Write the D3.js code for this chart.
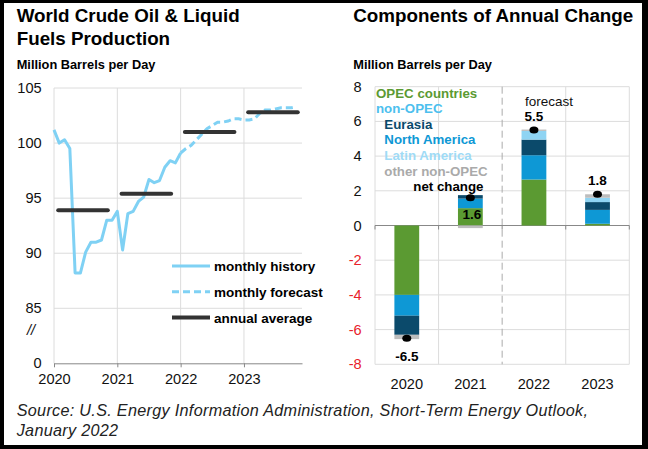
<!DOCTYPE html>
<html lang="en">
  <head>
    <title>world liquid fuels production</title>
    <meta charset="utf-8">
    <style>
      body { margin: 0; background: #000; }
      svg { display: block; font-family: "Liberation Sans", Arial, sans-serif; }
      .grid line { stroke: #dcdcdc; stroke-width: 1; }
      .tick-label { font-size: 14.6px; fill: #111; }
      .title { font-size: 18.8px; font-weight: bold; }
      .subtitle { font-size: 12.8px; font-weight: bold; }
      .legend { font-size: 13.5px; font-weight: bold; }
      .rlegend { font-size: 13.3px; font-weight: bold; }
      .value { font-size: 13.5px; font-weight: bold; }
      .source { font-size: 16.2px; font-style: italic; fill: #222; letter-spacing: 0.3px; }
    </style>
    <script src="https://d3js.org/d3.v7.min.js"></script>
  </head>
  <body>
    <script>

    // ---- left chart data (million barrels per day, monthly from Jan 2020) ----
    var monthlyHistory = [101.2, 100.0, 100.3, 99.5, 88.2, 88.2, 90.1, 91.0, 91.0, 91.2, 93.0, 93.0,
                          93.8, 90.3, 93.6, 93.8, 94.7, 95.1, 96.7, 96.4, 96.6, 97.8, 98.4, 98.2, 99.1];
    // forecast starts at month 24 (Jan 2022)
    var monthlyForecast = [99.1, 99.5, 99.8, 100.3, 100.8, 101.3, 101.6, 101.9, 101.9, 102.0, 102.2, 102.2,
                           102.1, 102.1, 102.2, 102.7, 103.0, 103.0, 103.1, 103.2, 103.2, 103.2, 103.3];
    var forecastStart = 24;
    var annualYears = [2020, 2021, 2022, 2023];
    var annualAverage = [93.9, 95.4, 101.0, 102.8];
    var leftTicks = [0, 85, 90, 95, 100, 105];

    // ---- right chart data (annual change) ----
    var years = ["2020", "2021", "2022", "2023"];
    var opec = [-4.0, 1.0, 2.65, 0.1];
    var northAmerica = [-1.2, 0.55, 1.4, 0.8];
    var eurasia = [-1.1, 0.2, 0.9, 0.45];
    var latinAmerica = [0, 0, 0.5, 0.25];
    var otherNonOpec = [-0.25, -0.15, 0.08, 0.2];
    var netChange = [-6.5, 1.6, 5.5, 1.8];
    var rightTicks = [-8, -6, -4, -2, 0, 2, 4, 6, 8];

    var W = 648, H = 449;

    var svg = d3.select("body").append("svg")
                .attr("width", W)
                .attr("height", H);

    // black frame round a white page
    svg.append("rect").attr("width", W).attr("height", H).attr("fill", "#000");
    svg.append("rect").attr("x", 4).attr("y", 3).attr("width", 638).attr("height", 442).attr("fill", "#fff");

    // ================= LEFT CHART =================
    var lx = d3.scaleLinear().domain([0, 47]).range([54, 302]);
    // broken axis: 0 .. 85 squeezed into one step
    var ly = d3.scaleLinear().domain([0, 85, 105]).range([363.3, 308.3, 88]);

    var left = svg.append("g");

    var lgrid = left.append("g").attr("class", "grid");
    lgrid.selectAll(".h").data(leftTicks.filter(function(d){ return d > 0; }))
         .enter().append("line")
         .attr("x1", lx(0)).attr("x2", lx(47))
         .attr("y1", function(d){ return ly(d); }).attr("y2", function(d){ return ly(d); });
    lgrid.selectAll(".v").data(annualYears)
         .enter().append("line")
         .attr("x1", function(d){ return lx((d - 2020) * 12); })
         .attr("x2", function(d){ return lx((d - 2020) * 12); })
         .attr("y1", ly(105)).attr("y2", ly(0));

    // x axis
    var lxAxis = d3.axisBottom(lx)
                   .tickValues(annualYears.map(function(d){ return (d - 2020) * 12; }))
                   .tickFormat(function(d){ return 2020 + d / 12; })
                   .tickSize(4)
                   .tickSizeOuter(0);
    var lxg = left.append("g")
                  .attr("transform", "translate(0," + ly(0) + ")")
                  .call(lxAxis);
    lxg.select(".domain").attr("stroke", "#888");
    lxg.selectAll(".tick line").attr("stroke", "#888");
    lxg.selectAll(".tick text").attr("class", "tick-label").attr("y", 10).attr("font-family", null).attr("font-size", null);

    // y labels
    left.selectAll(".ylab").data(leftTicks)
        .enter().append("text")
        .attr("class", "tick-label")
        .attr("text-anchor", "end")
        .attr("x", 41.7)
        .attr("y", function(d){ return ly(d) + 5; })
        .text(function(d){ return d; });
    left.append("text").attr("class", "tick-label").attr("font-style", "italic")
        .attr("text-anchor", "middle").attr("x", 31).attr("y", 335).text("//");

    var line = d3.line()
                 .x(function(d){ return lx(d.m); })
                 .y(function(d){ return ly(d.v); });

    var hist = monthlyHistory.map(function(v, i){ return {m: i, v: v}; });
    var fcst = monthlyForecast.map(function(v, i){ return {m: forecastStart + i, v: v}; });

    left.append("path").datum(hist)
        .attr("d", line).attr("fill", "none")
        .attr("stroke", "#7fd1f4").attr("stroke-width", 3).attr("stroke-linejoin", "round");
    left.append("path").datum(fcst)
        .attr("d", line).attr("fill", "none")
        .attr("stroke", "#7fd1f4").attr("stroke-width", 3).attr("stroke-dasharray", "7,4");

    left.selectAll(".avg").data(annualAverage)
        .enter().append("line")
        .attr("x1", function(d, i){ return lx(i * 12 + 0.8); })
        .attr("x2", function(d, i){ return lx(i * 12 + 10.2); })
        .attr("y1", function(d){ return ly(d); })
        .attr("y2", function(d){ return ly(d); })
        .attr("stroke", "#333").attr("stroke-width", 4).attr("stroke-linecap", "round");

    // legend
    var leg = [{t: "monthly history", c: "#7fd1f4", dash: null},
               {t: "monthly forecast", c: "#7fd1f4", dash: "7,4"},
               {t: "annual average", c: "#333", dash: null}];
    leg.forEach(function(d, i){
      var yy = 266 + i * 25.8;
      left.append("line").attr("x1", 172).attr("x2", 210).attr("y1", yy).attr("y2", yy)
          .attr("stroke", d.c).attr("stroke-width", d.c === "#333" ? 4 : 3)
          .attr("stroke-dasharray", d.dash);
      left.append("text").attr("class", "legend").attr("x", 214).attr("y", yy + 5).text(d.t);
    });

    left.append("text").attr("class", "title").attr("x", 16.7).attr("y", 22).text("World Crude Oil & Liquid");
    left.append("text").attr("class", "title").attr("x", 16.7).attr("y", 45).text("Fuels Production");
    left.append("text").attr("class", "subtitle").attr("x", 16.7).attr("y", 68.5).text("Million Barrels per Day");

    // ================= RIGHT CHART =================
    var rx = d3.scaleBand().domain(years).range([375, 629.3]);
    var ry = d3.scaleLinear().domain([-8, 8]).range([364.3, 86.7]);
    var barW = rx.bandwidth() * 0.39;

    var right = svg.append("g");
    var rgrid = right.append("g").attr("class", "grid");
    rgrid.selectAll(".h").data(rightTicks)
         .enter().append("line")
         .attr("x1", rx.range()[0]).attr("x2", rx.range()[1])
         .attr("y1", function(d){ return ry(d); }).attr("y2", function(d){ return ry(d); });
    rgrid.selectAll(".v").data(years.concat(["end"]))
         .enter().append("line")
         .attr("x1", function(d){ return d === "end" ? rx.range()[1] : rx(d); })
         .attr("x2", function(d){ return d === "end" ? rx.range()[1] : rx(d); })
         .attr("y1", ry(8)).attr("y2", ry(-8))
         .style("stroke", function(d){ return d === "2022" ? "#aaa" : null; })
         .style("stroke-dasharray", function(d){ return d === "2022" ? "7,4" : null; });

    // zero axis with ticks at band edges
    var zero = right.append("g").attr("transform", "translate(0," + ry(0) + ")");
    zero.append("line").attr("x1", rx.range()[0]).attr("x2", rx.range()[1]).attr("stroke", "#888");
    zero.selectAll(".zt").data(years.concat(["end"]))
        .enter().append("line")
        .attr("x1", function(d){ return d === "end" ? rx.range()[1] : rx(d); })
        .attr("x2", function(d){ return d === "end" ? rx.range()[1] : rx(d); })
        .attr("y1", 0).attr("y2", 4).attr("stroke", "#888");

    right.selectAll(".ylab").data(rightTicks)
         .enter().append("text")
         .attr("class", "tick-label")
         .attr("text-anchor", "end")
         .attr("x", 361.7)
         .attr("y", function(d){ return ry(d) + 5; })
         .style("fill", function(d){ return d < 0 ? "#e8222b" : "#111"; })
         .text(function(d){ return d; });

    right.selectAll(".xlab").data(years)
         .enter().append("text")
         .attr("class", "tick-label")
         .attr("text-anchor", "middle")
         .attr("x", function(d){ return rx(d) + rx.bandwidth() / 2; })
         .attr("y", 388.5)
         .text(function(d){ return d; });

    var keys = ["opec", "northAmerica", "eurasia", "latinAmerica", "other"];
    var colors = {opec: "#5b9a32", northAmerica: "#0e98d5", eurasia: "#0b4a6b", latinAmerica: "#8fd4f3", other: "#bdbdbd"};
    var table = years.map(function(y, i){
      return {year: y, opec: opec[i], northAmerica: northAmerica[i], eurasia: eurasia[i],
              latinAmerica: latinAmerica[i], other: otherNonOpec[i]};
    });
    var series = d3.stack().keys(keys).offset(d3.stackOffsetDiverging)(table);

    right.selectAll(".layer").data(series)
         .enter().append("g")
         .attr("fill", function(d){ return colors[d.key]; })
         .selectAll("rect").data(function(d){ return d; })
         .enter().append("rect")
         .attr("x", function(d){ return rx(d.data.year) + (rx.bandwidth() - barW) / 2; })
         .attr("width", barW)
         .attr("y", function(d){ return ry(Math.max(d[0], d[1])); })
         .attr("height", function(d){ return Math.abs(ry(d[0]) - ry(d[1])); });

    right.selectAll(".dot").data(netChange)
         .enter().append("ellipse")
         .attr("cx", function(d, i){ return rx(years[i]) + rx.bandwidth() / 2; })
         .attr("cy", function(d){ return ry(d); })
         .attr("rx", 4.5).attr("ry", 3.5)
         .attr("fill", "#000");

    // value labels
    var labelPos = [{dx: 0, y: 361}, {dx: 1.6, y: 219}, {dx: 0, y: 121}, {dx: 0, y: 185}];
    right.selectAll(".val").data(netChange)
         .enter().append("text")
         .attr("class", "value")
         .attr("text-anchor", "middle")
         .attr("x", function(d, i){ return rx(years[i]) + rx.bandwidth() / 2 + labelPos[i].dx; })
         .attr("y", function(d, i){ return labelPos[i].y; })
         .text(function(d){ return d; });
    right.append("text").attr("class", "tick-label").attr("text-anchor", "middle")
         .attr("x", 549).attr("y", 106).style("font-size", "13.5px").text("forecast");

    var rleg = [{t: "OPEC countries", c: "#5b9a32", x: 376},
                {t: "non-OPEC", c: "#4dbfee", x: 376},
                {t: "Eurasia", c: "#0b4a6b", x: 384.3},
                {t: "North America", c: "#0e98d5", x: 384.3},
                {t: "Latin America", c: "#9fdbf6", x: 384.3},
                {t: "other non-OPEC", c: "#aaaaaa", x: 384.3},
                {t: "net change", c: "#000", x: 413.3}];
    right.selectAll(".rleg").data(rleg)
         .enter().append("text")
         .attr("class", "rlegend")
         .attr("x", function(d){ return d.x; })
         .attr("y", function(d, i){ return 97.5 + i * 15.65; })
         .style("fill", function(d){ return d.c; })
         .text(function(d){ return d.t; });

    right.append("text").attr("class", "title").attr("x", 353.3).attr("y", 22).text("Components of Annual Change");
    right.append("text").attr("class", "subtitle").attr("x", 353.3).attr("y", 68.5).text("Million Barrels per Day");

    // source
    svg.append("text").attr("class", "source").attr("x", 16.7).attr("y", 416)
       .text("Source: U.S. Energy Information Administration, Short-Term Energy Outlook,");
    svg.append("text").attr("class", "source").attr("x", 16.7).attr("y", 436)
       .text("January 2022");

    </script>
  </body>
</html>
